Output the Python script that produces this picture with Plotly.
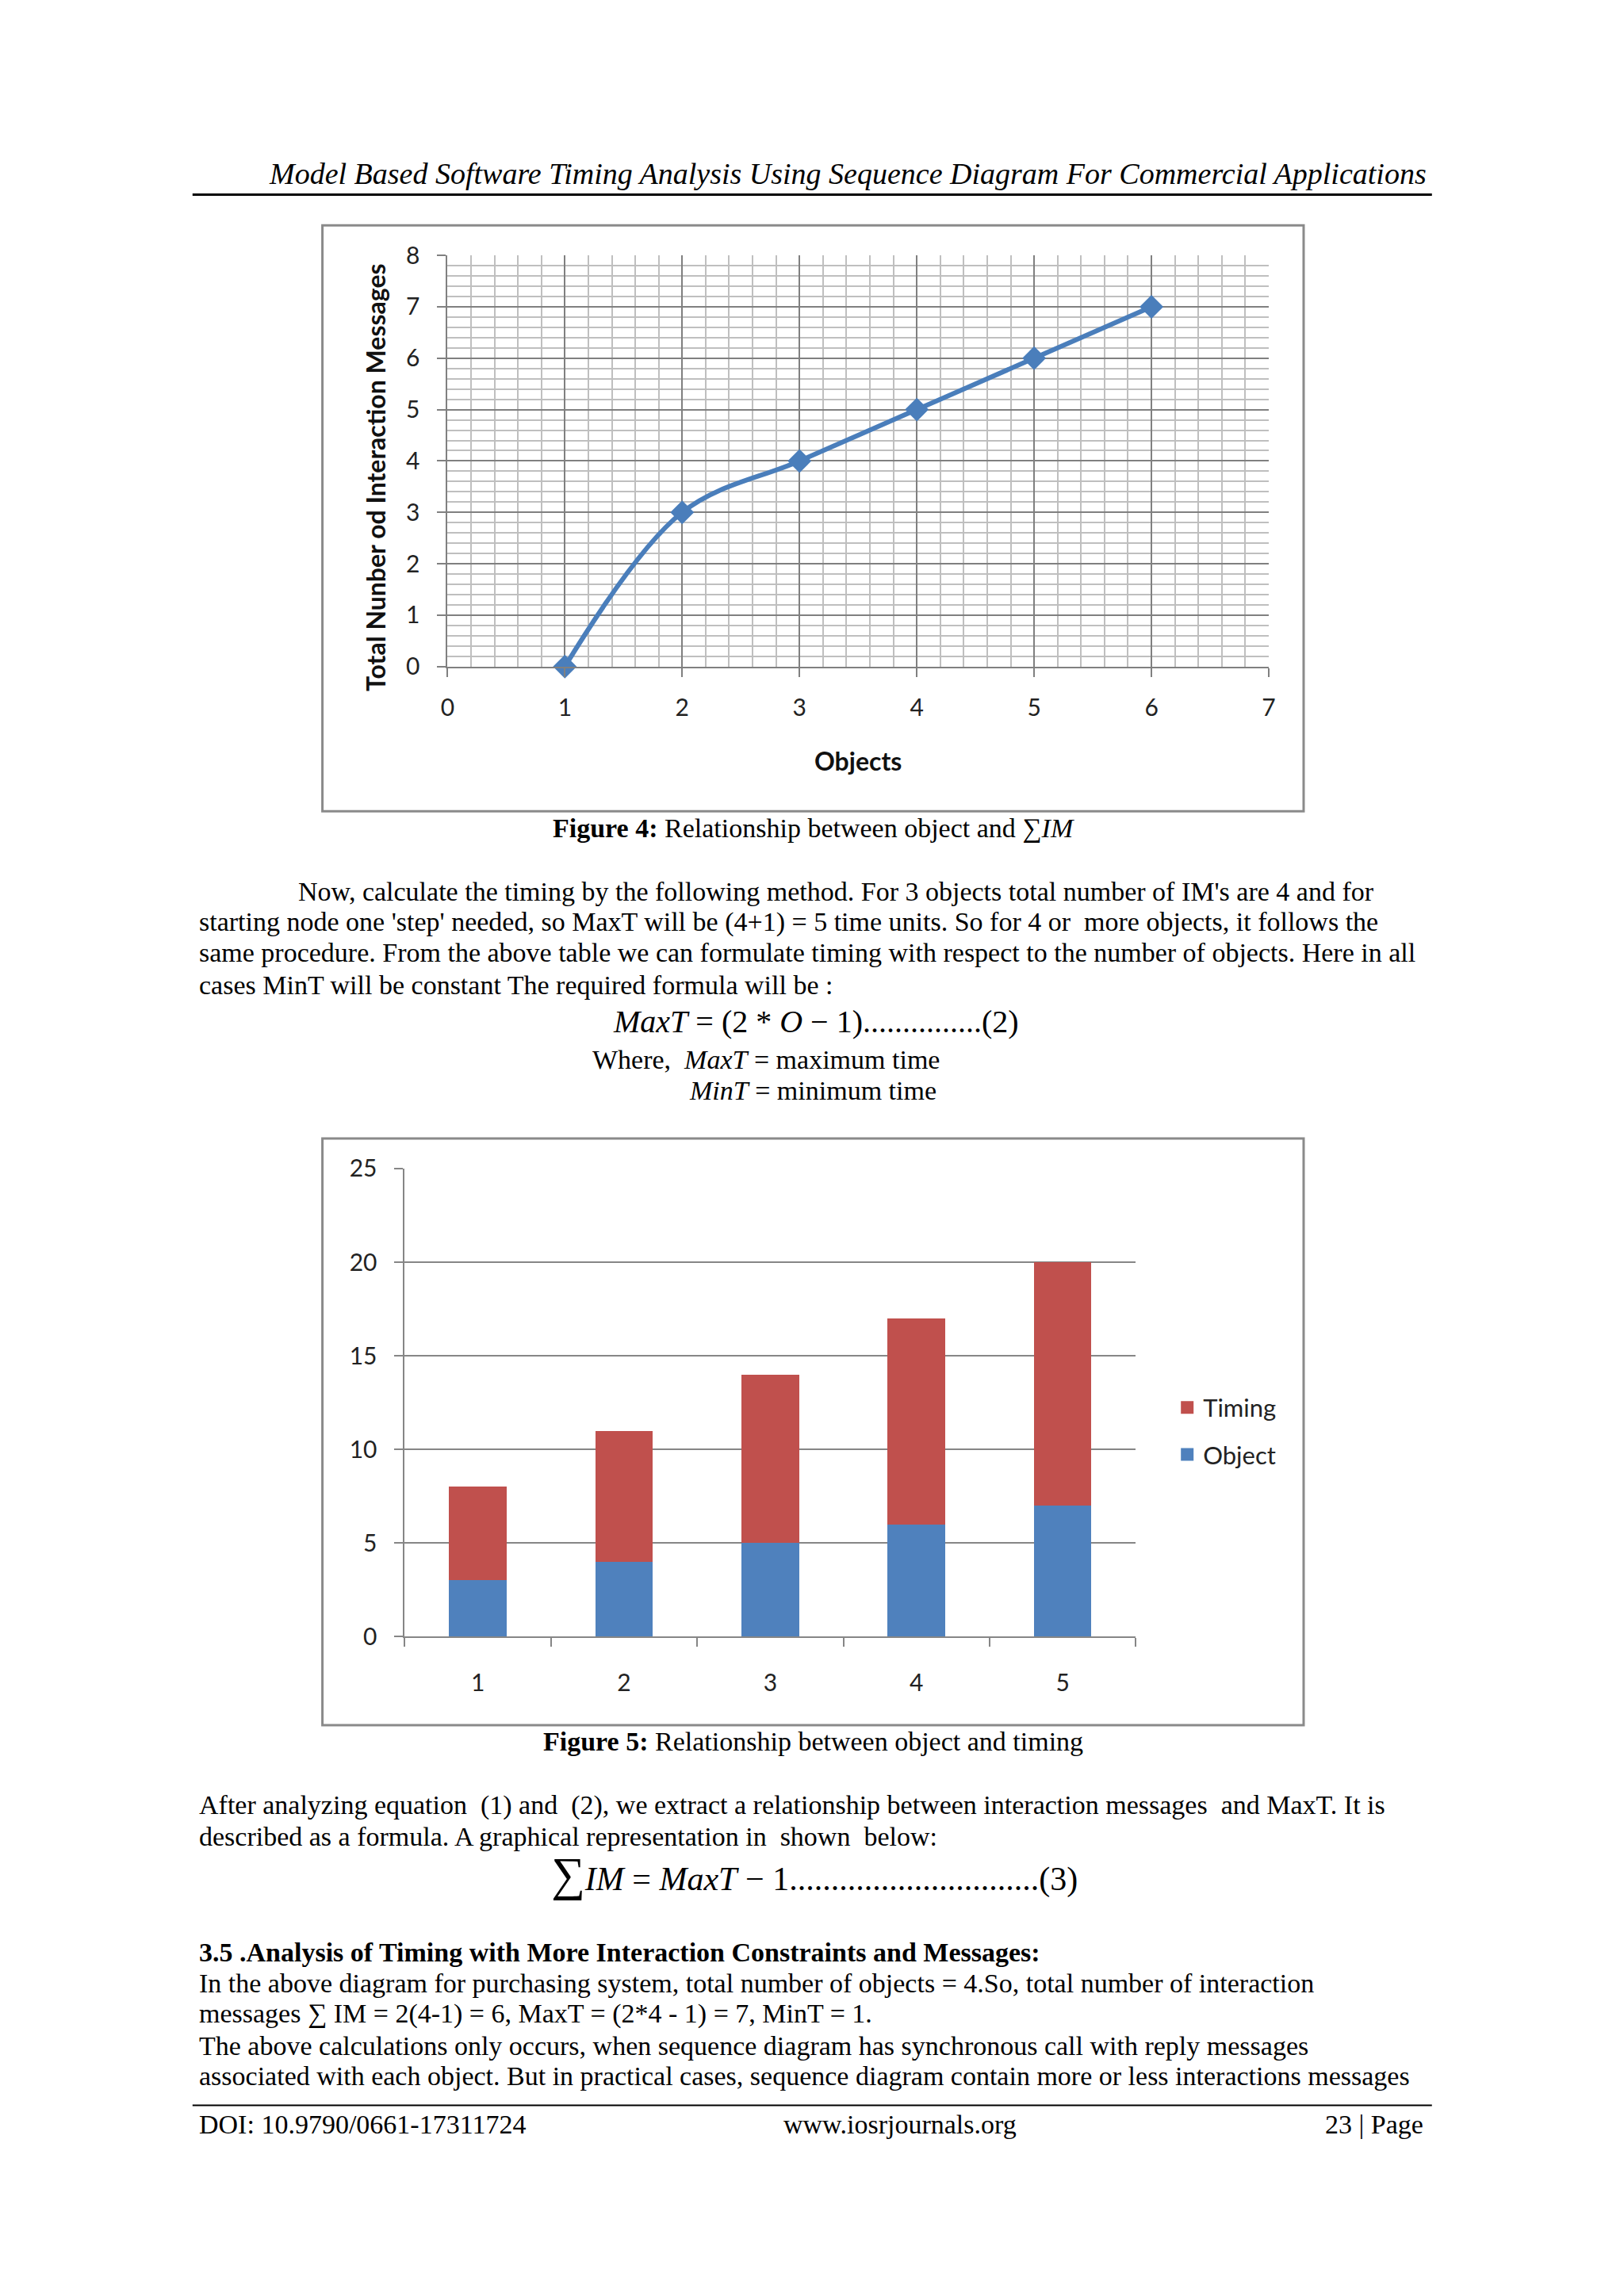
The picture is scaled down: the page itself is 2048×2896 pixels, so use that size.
import plotly.graph_objects as go

W, H = 2048, 2896

# ---------------- data ----------------
line_objects = [1, 2, 3, 4, 5, 6]
line_im = [0, 3, 4, 5, 6, 7]
line_xticks = [0, 1, 2, 3, 4, 5, 6, 7]
line_yticks = [0, 1, 2, 3, 4, 5, 6, 7, 8]

bar_categories = ["1", "2", "3", "4", "5"]
bar_object = [3, 4, 5, 6, 7]
bar_timing = [5, 7, 9, 11, 13]
bar_yticks = [0, 5, 10, 15, 20, 25]

BLUE_LINE = "#4a7ebb"
BLUE = "#4f81bd"
RED = "#c0504d"
CHART_FONT = "Lato"
SERIF = "Liberation Serif"


# page-pixel -> paper coordinates (with a small correction for page offset)
def px(x):
    return ((x - 15.9) / 0.9925) / W


def py(y):
    return 1 - ((y - 24.0) / 0.99) / H


fig = go.Figure()

fig.add_trace(go.Scatter(
    x=line_objects, y=line_im, mode="lines+markers",
    line=dict(color=BLUE_LINE, width=6, shape="spline", smoothing=1.0),
    marker=dict(symbol="diamond", size=23, color=BLUE_LINE),
    showlegend=False, xaxis="x", yaxis="y", cliponaxis=False,
))

fig.add_trace(go.Bar(
    x=bar_categories, y=bar_object, name="Object", marker_color=BLUE,
    marker_line_width=0, xaxis="x2", yaxis="y2", showlegend=False,
))
fig.add_trace(go.Bar(
    x=bar_categories, y=bar_timing, name="Timing", marker_color=RED,
    marker_line_width=0, xaxis="x2", yaxis="y2", showlegend=False,
))
# legend entries (square swatches)
fig.add_trace(go.Scatter(
    x=[None], y=[None], mode="markers", name="Timing",
    marker=dict(symbol="square", size=16, color=RED),
    xaxis="x2", yaxis="y2", legendgroup="t", legendrank=1,
))
fig.add_trace(go.Scatter(
    x=[None], y=[None], mode="markers", name="Object",
    marker=dict(symbol="square", size=16, color=BLUE),
    xaxis="x2", yaxis="y2", legendgroup="o", legendrank=2,
))

tickfont = dict(family=CHART_FONT, size=30, color="#222222")
titlefont = dict(family=CHART_FONT, size=32, color="#111111")

fig.update_layout(
    width=W, height=H, margin=dict(l=0, r=0, t=0, b=0),
    paper_bgcolor="white", plot_bgcolor="white",
    barmode="stack", bargap=0.606,
    xaxis=dict(
        domain=[px(564), px(1601)], range=[0, 7], tickvals=line_xticks,
        showgrid=True, gridcolor="#808080", gridwidth=2,
        minor=dict(dtick=0.2, showgrid=True, gridcolor="#bfbfbf", gridwidth=1.5),
        showline=True, linecolor="#808080", linewidth=2,
        ticks="outside", ticklen=11, tickcolor="#808080", tickwidth=2,
        tickfont=tickfont, ticklabelstandoff=13, zeroline=False,
        title=dict(text="<b>Objects</b>", font=titlefont, standoff=42),
        anchor="y",
    ),
    yaxis=dict(
        domain=[py(839), py(319)], range=[0, 8], tickvals=line_yticks,
        showgrid=True, gridcolor="#808080", gridwidth=2,
        minor=dict(dtick=0.2, showgrid=True, gridcolor="#bfbfbf", gridwidth=1.5),
        showline=True, linecolor="#808080", linewidth=2,
        ticks="outside", ticklen=11, tickcolor="#808080", tickwidth=2,
        tickfont=tickfont, ticklabelstandoff=16, zeroline=False,
        anchor="x",
    ),
    xaxis2=dict(
        domain=[px(510), px(1433)], type="category",
        showgrid=False, showline=True, linecolor="#868686", linewidth=2,
        ticks="outside", ticklen=11, tickcolor="#868686", tickwidth=2,
        tickson="boundaries", tickfont=tickfont, ticklabelstandoff=31,
        anchor="y2",
    ),
    yaxis2=dict(
        domain=[py(2066), py(1474)], range=[0, 25], tickvals=bar_yticks,
        showgrid=True, gridcolor="#868686", gridwidth=2,
        showline=True, linecolor="#868686", linewidth=2,
        ticks="outside", ticklen=11, tickcolor="#868686", tickwidth=2,
        tickfont=tickfont, ticklabelstandoff=16, zeroline=False,
        anchor="x2",
    ),
    legend=dict(
        x=px(1478), y=py(1806), xanchor="left", yanchor="middle",
        traceorder="grouped", tracegroupgap=16,
        font=dict(family=CHART_FONT, size=31, color="#222"),
        itemwidth=30, bgcolor="rgba(0,0,0,0)",
    ),
)

shapes = [
    # chart frames
    dict(type="rect", xref="paper", yref="paper", x0=px(406), x1=px(1645), y0=py(1022), y1=py(281),
         line=dict(color="#8a8a8a", width=3)),
    dict(type="rect", xref="paper", yref="paper", x0=px(406), x1=px(1645), y0=py(2178), y1=py(1436),
         line=dict(color="#8a8a8a", width=3)),
    # header and footer rules
    dict(type="line", xref="paper", yref="paper", x0=px(242), x1=px(1807), y0=py(242), y1=py(242),
         line=dict(color="black", width=3)),
    dict(type="line", xref="paper", yref="paper", x0=px(242), x1=px(1807), y0=py(2659), y1=py(2659),
         line=dict(color="black", width=2)),
]
fig.update_layout(shapes=shapes)

BODY = 34
ann = []


def text(t, x, y, anchor="left", size=BODY, family=SERIF, angle=0, color="black"):
    ann.append(dict(text=t, x=px(x), y=py(y), xref="paper", yref="paper", xanchor=anchor, yanchor="middle",
                    showarrow=False, textangle=angle, font=dict(family=family, size=size, color=color)))


# y-axis title of the line chart (placed like the original, slightly below centre)
text("<b>Total Nunber od Interaction Messages</b>", 473, 600, anchor="center", size=32,
     family=CHART_FONT, angle=-90, color="#111111")

text("<i>Model Based Software Timing Analysis Using Sequence Diagram For Commercial Applications</i>", 1802, 216,
     anchor="right", size=38)
text("<b>Figure 4:</b> Relationship between object and ∑<i>IM</i>", 1026, 1044, anchor="center")
text("Now, calculate the timing by the following method. For 3 objects total number of IM's are 4 and for", 373, 1124)
text("starting node one 'step' needed, so MaxT will be (4+1) = 5 time units. So for 4 or  more objects, it follows the", 248, 1162)
text("same procedure. From the above table we can formulate timing with respect to the number of objects. Here in all", 248, 1201)
text("cases MinT will be constant The required formula will be :", 248, 1242)
text("<i>MaxT</i> = (2 * <i>O</i> − 1)...............(2)", 771, 1288, size=40)
text("Where,  <i>MaxT</i> = maximum time", 745, 1336)
text("<i>MinT</i> = minimum time", 867, 1375)
text("<b>Figure 5:</b> Relationship between object and timing", 1026, 2199, anchor="center")
text("After analyzing equation  (1) and  (2), we extract a relationship between interaction messages  and MaxT. It is", 248, 2279)
text("described as a formula. A graphical representation in  shown  below:", 248, 2319)
text("<span style='font-size:60px'>∑</span><i>IM</i> = <i>MaxT</i> − 1..............................(3)", 693, 2367, size=42)
text("<b>3.5 .Analysis of Timing with More Interaction Constraints and Messages:</b>", 248, 2465)
text("In the above diagram for purchasing system, total number of objects = 4.So, total number of interaction", 248, 2504)
text("messages ∑ IM = 2(4-1) = 6, MaxT = (2*4 - 1) = 7, MinT = 1.", 248, 2543)
text("The above calculations only occurs, when sequence diagram has synchronous call with reply messages", 248, 2584)
text("associated with each object. But in practical cases, sequence diagram contain more or less interactions messages", 248, 2622)
text("DOI: 10.9790/0661-17311724", 248, 2683)
text("www.iosrjournals.org", 1135, 2683, anchor="center")
text("23 | Page", 1798, 2683, anchor="right")

fig.update_layout(annotations=ann)

fig.write_html("out.html")
